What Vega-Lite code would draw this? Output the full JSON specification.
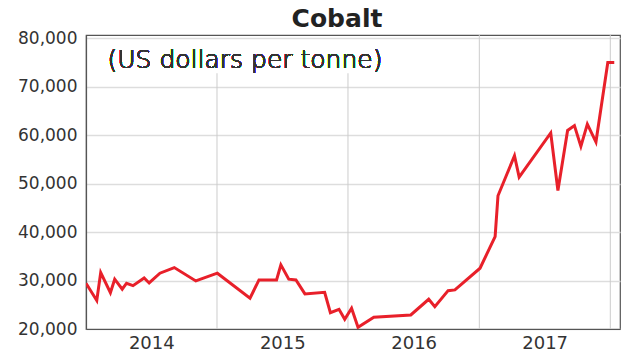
{
  "$schema": "https://vega.github.io/schema/vega-lite/v6.json",
  "width": 534,
  "height": 294,
  "autosize": {"type": "none"},
  "padding": {"left": 86, "top": 35, "right": 14, "bottom": 28},
  "title": {
    "text": "Cobalt",
    "font": "DejaVu Sans",
    "fontSize": 25,
    "fontWeight": "bold",
    "color": "#222222",
    "anchor": "middle",
    "dx": -16,
    "offset": -3
  },
  "config": {
    "view": {"stroke": "#555555", "strokeWidth": 1.2},
    "axis": {"labelFont": "DejaVu Sans", "labelColor": "#333333", "domainColor": "#555555", "domainWidth": 1.2}
  },
  "data": {
    "values": [
      {"date": "2014-01-01", "price": 29450},
      {"date": "2014-01-31", "price": 25900},
      {"date": "2014-02-11", "price": 31640},
      {"date": "2014-03-10", "price": 27500},
      {"date": "2014-03-22", "price": 30280},
      {"date": "2014-04-12", "price": 28210},
      {"date": "2014-04-24", "price": 29450},
      {"date": "2014-05-12", "price": 28950},
      {"date": "2014-06-12", "price": 30550},
      {"date": "2014-06-26", "price": 29510},
      {"date": "2014-07-26", "price": 31520},
      {"date": "2014-09-04", "price": 32680},
      {"date": "2014-11-03", "price": 29930},
      {"date": "2015-01-02", "price": 31520},
      {"date": "2015-04-03", "price": 26350},
      {"date": "2015-04-28", "price": 30130},
      {"date": "2015-06-16", "price": 30130},
      {"date": "2015-06-28", "price": 33240},
      {"date": "2015-07-20", "price": 30280},
      {"date": "2015-08-09", "price": 30130},
      {"date": "2015-09-03", "price": 27240},
      {"date": "2015-10-28", "price": 27590},
      {"date": "2015-11-13", "price": 23370},
      {"date": "2015-12-07", "price": 24070},
      {"date": "2015-12-23", "price": 22010},
      {"date": "2016-01-11", "price": 24280},
      {"date": "2016-01-29", "price": 20350},
      {"date": "2016-03-13", "price": 22420},
      {"date": "2016-06-24", "price": 22900},
      {"date": "2016-08-13", "price": 26140},
      {"date": "2016-08-30", "price": 24610},
      {"date": "2016-10-06", "price": 27920},
      {"date": "2016-10-25", "price": 28070},
      {"date": "2017-01-03", "price": 32550},
      {"date": "2017-02-14", "price": 39090},
      {"date": "2017-02-22", "price": 47500},
      {"date": "2017-04-09", "price": 55780},
      {"date": "2017-04-22", "price": 51370},
      {"date": "2017-07-19", "price": 60470},
      {"date": "2017-08-08", "price": 48600},
      {"date": "2017-09-04", "price": 61000},
      {"date": "2017-09-23", "price": 62000},
      {"date": "2017-10-11", "price": 57700},
      {"date": "2017-10-29", "price": 62300},
      {"date": "2017-11-22", "price": 58600},
      {"date": "2017-12-25", "price": 75000},
      {"date": "2018-01-12", "price": 75000}
    ]
  },
  "layer": [
    {
      "data": {"values": [{"year": "2015-01-01"}, {"year": "2016-01-01"}]},
      "mark": {"type": "rule", "color": "#cccccc", "strokeWidth": 1},
      "encoding": {
        "x": {"field": "year", "type": "temporal", "title": null},
        "y": {"datum": 20000, "type": "quantitative", "title": null},
        "y2": {"datum": 72800}
      }
    },
    {
      "data": {"values": [{"year": "2017-01-01"}, {"year": "2018-01-01"}]},
      "mark": {"type": "rule", "color": "#cccccc", "strokeWidth": 1},
      "encoding": {
        "x": {"field": "year", "type": "temporal", "title": null},
        "y": {"datum": 20000, "type": "quantitative", "title": null},
        "y2": {"datum": 80700}
      }
    },
    {
      "mark": {"type": "line", "color": "#e8202a", "strokeWidth": 3, "strokeJoin": "miter", "clip": true},
      "encoding": {
        "x": {
          "field": "date",
          "type": "temporal",
          "scale": {"type": "utc", "domain": [{"year": 2014, "month": 1, "date": 1, "utc": true}, {"year": 2018, "month": 1, "date": 28, "utc": true}], "nice": false},
          "axis": {
            "title": null,
            "grid": false,
            "ticks": false,
            "labelFontSize": 18,
            "labelPadding": 5,
            "format": "%Y",
            "values": [
              {"year": 2014, "month": 7, "date": 2, "utc": true},
              {"year": 2015, "month": 7, "date": 2, "utc": true},
              {"year": 2016, "month": 7, "date": 2, "utc": true},
              {"year": 2017, "month": 7, "date": 2, "utc": true}
            ]
          }
        },
        "y": {
          "field": "price",
          "type": "quantitative",
          "scale": {"domain": [20000, 80700], "nice": false, "zero": false},
          "axis": {
            "title": null,
            "ticks": false,
            "labelFontSize": 17,
            "labelPadding": 9,
            "format": ",d",
            "values": [20000, 30000, 40000, 50000, 60000, 70000, 80000],
            "grid": true,
            "gridColor": "#dddddd",
            "gridWidth": 1.5
          }
        }
      }
    },
    {
      "mark": {"type": "text", "align": "left", "baseline": "middle", "font": "DejaVu Sans", "fontSize": 25, "fontWeight": 300, "color": "#333333"},
      "encoding": {
        "x": {"datum": {"year": 2014, "month": 3, "date": 2, "utc": true}, "type": "temporal"},
        "y": {"datum": 75600, "type": "quantitative"},
        "text": {"value": "(US dollars per tonne)"}
      }
    }
  ]
}
